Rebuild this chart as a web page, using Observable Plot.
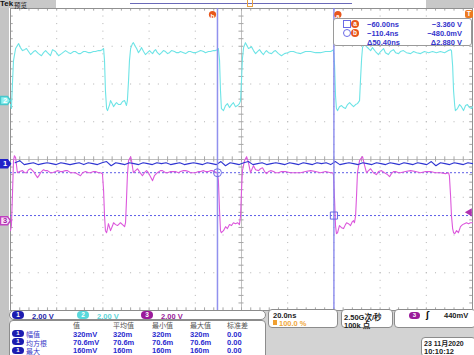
<!DOCTYPE html>
<html><head><meta charset="utf-8">
<script src="https://cdn.jsdelivr.net/npm/d3@7"></script>
<script src="https://cdn.jsdelivr.net/npm/@observablehq/plot@0.6"></script>
<style>
html,body{margin:0;padding:0;background:#fff;}
#scope{position:relative;width:474px;height:355px;overflow:hidden;background:#fff;font-family:"Liberation Sans","DejaVu Sans",sans-serif;}
#scope svg{position:absolute;left:0;top:0;z-index:1;}
.bg{position:absolute;z-index:0;}
.t{position:absolute;white-space:nowrap;line-height:1;z-index:3;}
.box{position:absolute;z-index:2;background:#fff;border:1px solid #8c8c8c;box-sizing:border-box;}
</style></head><body><div id="scope"></div>
<script>
// ---- scope settings ----
const screenStart = -200;           // ns at left edge of screen
const voltDiv = 2;                  // V/div, all channels
const chPos = {ch1: -0.11, ch2: 1.56, ch3: -1.62}; // channel positions (div)
const cursorTimes = [-60.0, -110.4];   // cursors a, b (ns)
const cursorLevels = [-2.75, -0.48];   // cursors a, b (V, ch1 scale)
const trigLevel = 0.44;               // V on ch3

// ---- channel 2 (cyan): [ns from screen left, V] ----
const ch2 = [[0,-0.21],[0.4,-0.42],[0.9,1.06],[1.3,2.12],[2.2,2.76],[3.5,3.02],[4.3,2.81],[5.2,2.65],[6.1,2.70],[6.9,2.76],[7.8,2.60],[8.7,2.44],[10.0,2.60],[10.8,2.65],[12.1,2.49],[13.4,2.38],[14.3,2.54],[15.2,2.65],[16.0,2.54],[17.3,2.38],[18.2,2.70],[19.5,2.60],[20.8,2.38],[22.1,2.49],[23.8,2.65],[25.1,2.54],[26.0,2.49],[27.3,2.60],[28.1,2.60],[29.4,2.49],[30.3,2.49],[31.6,2.60],[32.5,2.60],[33.8,2.54],[34.6,2.54],[35.9,2.60],[36.8,2.60],[38.1,2.65],[39.0,2.65],[39.8,2.70],[40.3,2.76],[40.7,2.12],[41.1,0.53],[41.6,-0.42],[42.0,-0.53],[42.9,-0.21],[43.3,0],[44.2,-0.21],[44.6,-0.32],[45.5,-0.16],[45.9,-0.11],[46.8,-0.21],[47.6,-0.21],[48.5,-0.05],[49.4,0],[50.2,-0.26],[50.6,0],[51.1,1.06],[51.5,2.12],[52.0,2.76],[52.8,3.02],[53.2,3.07],[54.1,2.86],[54.6,2.76],[55.4,2.54],[56.3,2.70],[56.7,2.81],[57.6,2.60],[58.4,2.44],[59.3,2.54],[60.2,2.65],[61.0,2.54],[61.5,2.49],[62.3,2.65],[62.8,2.70],[63.6,2.54],[64.5,2.44],[65.4,2.54],[66.2,2.65],[67.1,2.60],[68.0,2.49],[68.8,2.54],[69.7,2.65],[71.0,2.60],[71.9,2.54],[72.7,2.54],[73.6,2.60],[74.9,2.54],[75.8,2.49],[77.1,2.60],[77.9,2.60],[79.2,2.54],[80.1,2.54],[81.4,2.60],[82.3,2.65],[83.6,2.60],[84.4,2.54],[85.7,2.60],[86.6,2.60],[87.9,2.65],[88.7,2.65],[89.6,2.70],[90.0,2.76],[90.5,2.12],[90.9,0.53],[91.3,-0.42],[92.2,-0.53],[93.1,-0.26],[93.9,-0.16],[94.8,-0.37],[95.7,-0.21],[96.5,-0.11],[97.4,-0.32],[98.3,-0.26],[99.1,-0.16],[99.6,0],[100.0,1.06],[100.4,2.23],[100.9,2.81],[101.7,3.07],[102.6,2.86],[103.0,2.76],[103.9,2.81],[104.3,2.86],[105.2,2.65],[106.1,2.49],[106.9,2.60],[107.8,2.70],[108.7,2.54],[109.5,2.44],[110.4,2.60],[110.8,2.65],[111.7,2.54],[113.0,2.49],[113.9,2.60],[114.7,2.65],[116.0,2.49],[117.3,2.38],[118.6,2.49],[119.9,2.54],[121.2,2.60],[122.5,2.60],[123.8,2.54],[125.6,2.49],[127.7,2.60],[129.9,2.60],[132.0,2.54],[134.2,2.54],[136.4,2.60],[138.6,2.60],[139.4,2.65],[139.8,2.70],[140.3,1.85],[140.7,0.26],[141.1,-0.42],[141.6,-0.53],[142.4,-0.32],[143.3,-0.26],[144.2,-0.37],[145.0,-0.42],[145.9,-0.21],[146.8,-0.11],[147.6,-0.21],[148.5,-0.32],[149.4,-0.21],[150.2,-0.16],[151.1,0],[151.5,1.06],[152.0,2.23],[152.4,2.81],[153.3,3.02],[154.1,2.86],[155.0,2.76],[155.9,2.65],[156.7,2.81],[158.0,2.60],[159.3,2.44],[160.2,2.60],[161.5,2.76],[162.3,2.54],[163.6,2.44],[164.5,2.60],[165.8,2.70],[166.7,2.54],[168.0,2.49],[168.8,2.60],[170.1,2.65],[171.4,2.54],[173.2,2.49],[174.5,2.60],[175.8,2.54],[177.5,2.49],[179.2,2.60],[181.0,2.54],[182.7,2.60],[184.4,2.54],[186.1,2.60],[187.9,2.54],[189.6,2.65],[190.5,2.70],[190.9,2.65],[191.4,1.85],[191.8,0.53],[192.3,-0.26],[192.6,-0.53],[193.5,-0.42],[194.4,-0.21],[195.2,-0.32],[196.1,-0.53],[197.0,-0.26],[197.8,-0.21],[198.7,-0.37],[199.6,-0.42],[200,-0.32]];

// ---- channel 3 (magenta): [ns from screen left, V] ----
const ch3 = [[0,-0.53],[0.4,-0.26],[0.9,1.59],[1.3,3.18],[1.7,3.44],[2.2,3.34],[3.0,2.54],[3.9,2.60],[5.2,2.65],[6.1,2.54],[6.9,2.54],[7.8,2.70],[8.7,2.75],[10.0,2.60],[10.8,2.44],[11.7,2.28],[12.6,2.44],[13.0,2.54],[14.3,2.70],[15.2,2.65],[16.0,2.65],[17.3,2.54],[18.2,2.54],[19.5,2.60],[20.3,2.65],[21.6,2.60],[22.5,2.60],[23.8,2.65],[24.7,2.65],[26.0,2.54],[26.8,2.54],[28.1,2.54],[29.4,2.44],[30.3,2.38],[31.2,2.54],[32.5,2.60],[33.8,2.54],[34.6,2.54],[35.9,2.60],[36.8,2.60],[38.1,2.54],[39.0,2.54],[39.8,2.49],[40.3,1.59],[40.7,0.26],[41.1,-0.53],[41.6,-0.64],[42.0,-0.42],[42.4,-0.16],[43.3,-0.53],[44.2,-0.26],[44.6,-0.11],[45.5,-0.21],[46.3,-0.26],[47.2,-0.16],[47.6,-0.11],[48.5,-0.21],[49.4,-0.32],[49.8,-0.11],[50.2,1.06],[50.6,2.38],[51.1,3.18],[52.0,3.39],[52.4,3.18],[53.2,2.54],[54.1,2.65],[55.0,2.75],[55.8,2.60],[57.1,2.38],[58.0,2.54],[58.9,2.65],[59.7,2.54],[60.6,2.33],[61.5,2.12],[62.3,2.38],[63.6,2.54],[64.9,2.65],[65.8,2.65],[67.1,2.54],[68.0,2.54],[69.3,2.60],[70.6,2.60],[71.4,2.60],[72.7,2.54],[73.6,2.60],[74.9,2.65],[75.8,2.65],[77.1,2.60],[77.9,2.54],[79.2,2.54],[80.1,2.54],[81.4,2.60],[82.3,2.60],[83.6,2.65],[84.4,2.60],[85.7,2.60],[86.6,2.65],[87.4,2.65],[88.3,2.60],[89.2,2.54],[89.6,2.49],[90.0,2.12],[90.5,0.53],[90.9,-0.53],[91.3,-0.64],[92.2,-0.53],[93.1,-0.32],[93.9,-0.42],[94.8,-0.21],[95.7,-0.26],[96.5,-0.11],[97.4,-0.16],[98.3,-0.11],[99.1,-0.21],[99.6,0.26],[100.0,1.59],[100.4,2.65],[101.3,3.18],[102.2,3.39],[103.0,3.07],[103.9,2.54],[104.8,2.80],[105.2,2.91],[106.1,2.70],[107.4,2.65],[108.2,2.75],[109.1,2.80],[110.0,2.60],[110.8,2.49],[111.7,2.60],[112.6,2.65],[113.9,2.60],[114.7,2.54],[116.0,2.54],[117.3,2.60],[119.0,2.60],[121.2,2.54],[123.4,2.54],[125.6,2.54],[127.7,2.60],[129.9,2.65],[132.0,2.60],[134.2,2.54],[136.4,2.60],[138.6,2.54],[139.4,2.54],[139.8,2.44],[140.3,1.06],[140.7,-0.26],[141.1,-0.69],[141.6,-0.64],[142.4,-0.26],[143.3,-0.37],[144.2,-0.42],[145.0,-0.21],[145.5,-0.11],[146.3,-0.16],[147.2,-0.26],[148.0,-0.05],[148.5,0],[148.9,-0.11],[149.4,0.26],[149.8,1.32],[150.2,2.54],[151.1,3.18],[152.0,3.34],[152.4,3.39],[153.3,2.91],[154.1,2.54],[155.0,2.65],[155.9,2.75],[157.1,2.54],[158.4,2.44],[159.3,2.60],[160.6,2.65],[161.9,2.54],[163.2,2.44],[164.1,2.33],[164.9,2.49],[165.8,2.60],[166.7,2.60],[168.0,2.54],[168.8,2.54],[171.0,2.60],[173.2,2.65],[175.3,2.60],[177.5,2.54],[179.7,2.60],[181.8,2.60],[184.0,2.54],[186.1,2.54],[188.3,2.49],[189.6,2.54],[190.0,2.38],[190.5,1.32],[190.9,0.26],[191.4,-0.42],[191.8,-0.64],[192.3,-0.69],[193.1,-0.53],[193.9,-0.64],[194.8,-0.32],[195.7,-0.21],[196.5,-0.16],[197.4,-0.11],[198.3,-0.16],[199.1,-0.11],[200,-0.11]];

// ---- channel 1 (blue): one reading every 2 ns from screen left, V ----
const ch1Step = 2;
const ch1 = [0.05,0.16,-0.05,0,0.05,-0.05,0,0.05,0,-0.05, 0.05,0,-0.05,0,0.05,-0.05,0.05,0,-0.05,0.05, 0.11,-0.11,0.05,0,-0.05,0.05,0,-0.05,0.05,0, -0.05,0.05,0,0.05,-0.05,0,0.05,-0.05,0,0.05, 0,-0.05,0.05,0,-0.05,0.11,-0.11,0.05,0,-0.05, 0.05,0.11,-0.05,0,0.05,-0.05,0,0.05,0,-0.05, 0.05,0,-0.05,0.05,0,-0.05,0.05,0,0.05,-0.05, 0.11,-0.05,0,0.05,0,-0.05,0.05,0,-0.05,0.05, 0,-0.05,0.05,0,-0.05,0.05,0,-0.05,0.05,0, -0.05,0.11,-0.11,0.05,0,-0.05,0.05,0,-0.05,0.05, 0];

// ---- texts ----
const chanLabels = ["1","2","3"];
const chanScales = ["2.00 V","2.00 V","2.00 V"];
const measCols = ["值","平均值","最小值","最大值","标准差"];
const measNames = ["幅值","均方根","最大"];
const measRows = [["320mV","320m","320m","320m","0.00"],["70.6mV","70.6m","70.6m","70.6m","0.00"],["160mV","160m","160m","160m","0.00"]];
const readout = [["−60.00ns","−3.360 V"],["−110.4ns","−480.0mV"],["Δ50.40ns","Δ2.880 V"]];
const timebase = "20.0ns", recordPct = "100.0 %", sampleRate = "2.50G次/秒", recordLen = "100k 点", trigText = "440mV";
const dateText = "23 11月2020", timeText = "10:10:12";

// ---- styles ----
const col = {ch1:"#2f35d2", ch2:"#6ee4e6", ch3:"#dc58dc", cursor:"#8585ec", cursorH:"#5c5ce6", grid:"#b2b2b2", orange:"#e8561c"};
const mixFont = "'Liberation Sans','Noto Sans CJK SC',sans-serif";
const Y = (pos, v) => pos + v / voltDiv;

const minorX = d3.range(-200, 0.001, 4);
const minorY = d3.range(-4, 4.001, 0.2);
const gridX = d3.range(-180, 0, 20).filter(t => t !== -100);
const gridY = [-3,-2,-1,1,2,3];

const tag = {draw(ctx, size){ const h = Math.sqrt(size/Math.PI);
  ctx.moveTo(-h,-h*0.8); ctx.lineTo(h*0.4,-h*0.8); ctx.lineTo(h,0); ctx.lineTo(h*0.4,h*0.8); ctx.lineTo(-h,h*0.8); ctx.closePath(); }};
const markerStyle = [
  {pos: chPos.ch1, fill: "#2222c8", stroke: "#2222c8", text: "#fff"},
  {pos: chPos.ch2, fill: "#8ff0f0", stroke: "#48c8cc", text: "#fff"},
  {pos: chPos.ch3, fill: "#f8e0f8", stroke: "#c040c0", text: "#a020a0"}
];

const cA = {t: cursorTimes[0], y: Y(chPos.ch1, cursorLevels[0])};
const cB = {t: cursorTimes[1], y: Y(chPos.ch1, cursorLevels[1])};

const marks = [
  Plot.ruleX(gridX, {stroke: col.grid, strokeDasharray: "1 6.55"}),
  Plot.ruleY(gridY, {stroke: col.grid, strokeDasharray: "1 8.24"}),
  Plot.ruleX([-100], {stroke: "#c0c0c0"}),
  Plot.ruleY([0], {stroke: "#c0c0c0"}),
  Plot.ruleX(minorX, {y1: -0.07, y2: 0.07, stroke: "#a6a6a6"}),
  Plot.ruleY(minorY, {x1: -101.1, x2: -98.9, stroke: "#a6a6a6"}),
  Plot.ruleX(minorX, {y1: 4, y2: 3.93, stroke: "#a6a6a6"}),
  Plot.ruleX(minorX, {y1: -4, y2: -3.93, stroke: "#a6a6a6"}),
  Plot.ruleY(minorY, {x1: -200, x2: -198.8, stroke: "#a6a6a6"}),
  Plot.ruleY(minorY, {x1: 0, x2: -1.2, stroke: "#a6a6a6"}),
  Plot.frame({stroke: "#909090"}),
  Plot.ruleY(cursorLevels, {y: v => Y(chPos.ch1, v), stroke: col.cursorH, strokeDasharray: "2 2"}),
  Plot.line(ch3, {x: d => screenStart + d[0], y: d => Y(chPos.ch3, d[1]), stroke: col.ch3, strokeWidth: 1.1}),
  Plot.line(ch2, {x: d => screenStart + d[0], y: d => Y(chPos.ch2, d[1]), stroke: col.ch2, strokeWidth: 1.1}),
  Plot.line(ch1, {x: (d, i) => screenStart + 2 + i * ch1Step * 0.99, y: d => Y(chPos.ch1, d), stroke: col.ch1, strokeWidth: 1.1}),
  Plot.ruleX(cursorTimes, {stroke: col.cursor, strokeWidth: 1.5, strokeOpacity: 0.9}),
  Plot.dot([cB], {x: "t", y: "y", r: 4, stroke: "#6a6ae6", fill: "none", strokeWidth: 1}),
  Plot.dot([cA], {x: "t", y: "y", r: 4, symbol: "square", stroke: "#6a6ae6", fill: "none", strokeWidth: 1}),
  Plot.dot([cA], {x: "t", frameAnchor: "top", dy: 6, dx: 4, r: 3.6, fill: col.orange}),
  Plot.text([cA], {x: "t", frameAnchor: "top", dy: 5.5, dx: 4, text: () => "a", fill: "#fff", fontSize: 6.5, fontWeight: "bold"}),
  Plot.dot([cB], {x: "t", frameAnchor: "top", dy: 6, dx: -5, r: 3.6, fill: col.orange}),
  Plot.text([cB], {x: "t", frameAnchor: "top", dy: 5.5, dx: -5, text: () => "b", fill: "#fff", fontSize: 6.5, fontWeight: "bold"}),
  Plot.dot([trigLevel], {x: () => 0, y: v => Y(chPos.ch3, v), dx: -3, symbol: "triangle", rotate: -90, r: 3, fill: "#b030b0"})
];
markerStyle.forEach((m, i) => {
  marks.push(Plot.dot([m], {x: () => -200, y: "pos", dx: -5, symbol: tag, r: 5, fill: m.fill, stroke: m.stroke}));
  marks.push(Plot.text([m], {x: () => -200, y: "pos", dx: -5.5, text: () => chanLabels[i], fill: m.text, fontSize: 7.5, fontWeight: "bold"}));
});

const svg = Plot.plot({
  width: 474, height: 355, marginLeft: 10, marginRight: 2, marginTop: 8, marginBottom: 45,
  x: {domain: [-200, 0], axis: null},
  y: {domain: [-4, 4], axis: null},
  style: {background: "transparent", overflow: "visible", fontFamily: "Liberation Sans, DejaVu Sans, sans-serif"},
  marks
});

const root = document.getElementById("scope");
const el = (cls, css, html = "") => { const e = document.createElement("div"); e.className = cls; e.style.cssText = css; e.innerHTML = html; root.appendChild(e); return e; };
const put = (html, x, y, css = "") => el("t", `left:${x}px;top:${y}px;${css}`, html);

// backgrounds under the svg
el("bg", "left:0;top:0;width:9px;height:355px;background:#c4c4c4;");
el("bg", "left:0;top:0;width:56px;height:8px;background:#c8c8c8;");
el("bg", "left:426px;top:0;width:48px;height:8px;background:#c8c8c8;");
el("bg", "left:0;top:310px;width:474px;height:45px;background:#d3d3d3;");
el("bg", "left:0;top:310px;width:9px;height:45px;background:#c4c4c4;");
root.appendChild(svg);

// top bar
put("Tek", 0, -1, "font:bold 8px 'Liberation Sans',sans-serif;color:#111;");
put("预览", 14, -0.5, `font:6.5px ${mixFont};color:#222;`);
el("t", "left:130px;top:3px;width:222px;height:1px;background:#6a6ab8;");
el("t", "left:247px;top:0;width:4px;height:6px;border:1px solid #e8a040;border-top:none;");
// trigger position marker
el("t", "left:465px;top:10px;width:8px;height:8px;background:#ec7a20;border-radius:2px;color:#fff;font:bold 7px sans-serif;text-align:center;line-height:8px;", "T");

// cursor readout box
el("box", "left:333px;top:18px;width:139px;height:28px;border-radius:3px;border-color:#9a9a9a;");
el("t", "left:343px;top:20px;width:6px;height:6px;border:1px solid #6a6ae6;");
el("t", "left:343px;top:29px;width:6px;height:6px;border:1px solid #6a6ae6;border-radius:50%;");
el("t", "left:351px;top:19.5px;width:8px;height:8px;border-radius:50%;background:#e8561c;color:#fff;font:bold 6.5px sans-serif;text-align:center;line-height:7.5px;", "a");
el("t", "left:351px;top:28.5px;width:8px;height:8px;border-radius:50%;background:#e8561c;color:#fff;font:bold 6.5px sans-serif;text-align:center;line-height:7.5px;", "b");
const roStyle = "font:bold 7.5px 'Liberation Sans',sans-serif;color:#3434cc;";
readout.forEach((r, i) => {
  put(r[0], 367, 20 + i * 9, roStyle);
  put(r[1], 0, 20 + i * 9, roStyle + "right:12px;left:auto;");
});

// channel scale row
el("box", "left:9px;top:310px;width:257px;height:10px;border-radius:5px;");
const chanCol = [{bg:"#1c1cb0", fg:"#fff", txt:"#1e1eaa"}, {bg:"#58d8dc", fg:"#fff", txt:"#5cd4d8"}, {bg:"#9a1a9a", fg:"#fff", txt:"#9a1a9a"}];
[12, 77, 141].forEach((x, i) => {
  el("t", `left:${x}px;top:311px;width:12px;height:8px;border-radius:4px;background:${chanCol[i].bg};color:${chanCol[i].fg};font:bold 6.5px sans-serif;text-align:center;line-height:8px;`, chanLabels[i]);
  put(chanScales[i], x + 20, 311.5, `font:bold 7.5px 'Liberation Sans',sans-serif;color:${chanCol[i].txt};`);
});

// measurement table
el("box", "left:9px;top:320px;width:257px;height:40px;border-radius:4px 4px 0 0;");
const colX = [73, 113, 152, 190, 227];
measCols.forEach((c, j) => put(c, colX[j], 320, `font:7px ${mixFont};color:#555;`));
measNames.forEach((n, i) => {
  const y = 329.5 + i * 8.4;
  el("t", `left:12px;top:${y + 0.5}px;width:12px;height:7px;border-radius:4px;background:#1c1cb0;color:#fff;font:bold 6px sans-serif;text-align:center;line-height:7px;`, "1");
  put(n, 26, y - 0.2, `font:7px ${mixFont};color:#3a3ac8;`);
  measRows[i].forEach((v, j) => put(v, colX[j], y, "font:bold 7.5px 'Liberation Sans',sans-serif;color:#2a2ad0;"));
});

// timebase / acquisition / trigger boxes
el("box", "left:268px;top:309px;width:70px;height:19px;border-radius:4px;");
put(timebase, 273, 311, "font:bold 7.5px 'Liberation Sans',sans-serif;color:#222;");
el("t", "left:273px;top:319.5px;width:4px;height:5px;background:#f0a030;");
put(recordPct, 279, 319, "font:bold 7.5px 'Liberation Sans',sans-serif;color:#f0a840;");
el("box", "left:341px;top:309px;width:52px;height:19px;border-radius:4px;");
put(sampleRate, 344, 310.5, `font:bold 7.5px ${mixFont};color:#222;`);
put(recordLen, 344, 319, `font:bold 7.5px ${mixFont};color:#222;`);
el("box", "left:394px;top:309px;width:82px;height:19px;border-radius:4px;");
el("t", "left:409px;top:312px;width:11px;height:7px;border-radius:4px;background:#9a1a9a;color:#fff;font:bold 6px sans-serif;text-align:center;line-height:7px;", chanLabels[2]);
put("ʃ", 426, 311, "font:bold 8px 'DejaVu Sans',sans-serif;color:#111;");
put(trigText, 444, 311, "font:bold 7.5px 'Liberation Sans',sans-serif;color:#222;");
el("box", "left:421px;top:337px;width:55px;height:20px;border-radius:4px;");
put(dateText, 424, 337.5, `font:bold 7px ${mixFont};color:#222;`);
put(timeText, 424, 346.8, "font:bold 7.5px 'Liberation Sans',sans-serif;color:#222;");
</script></body></html>
